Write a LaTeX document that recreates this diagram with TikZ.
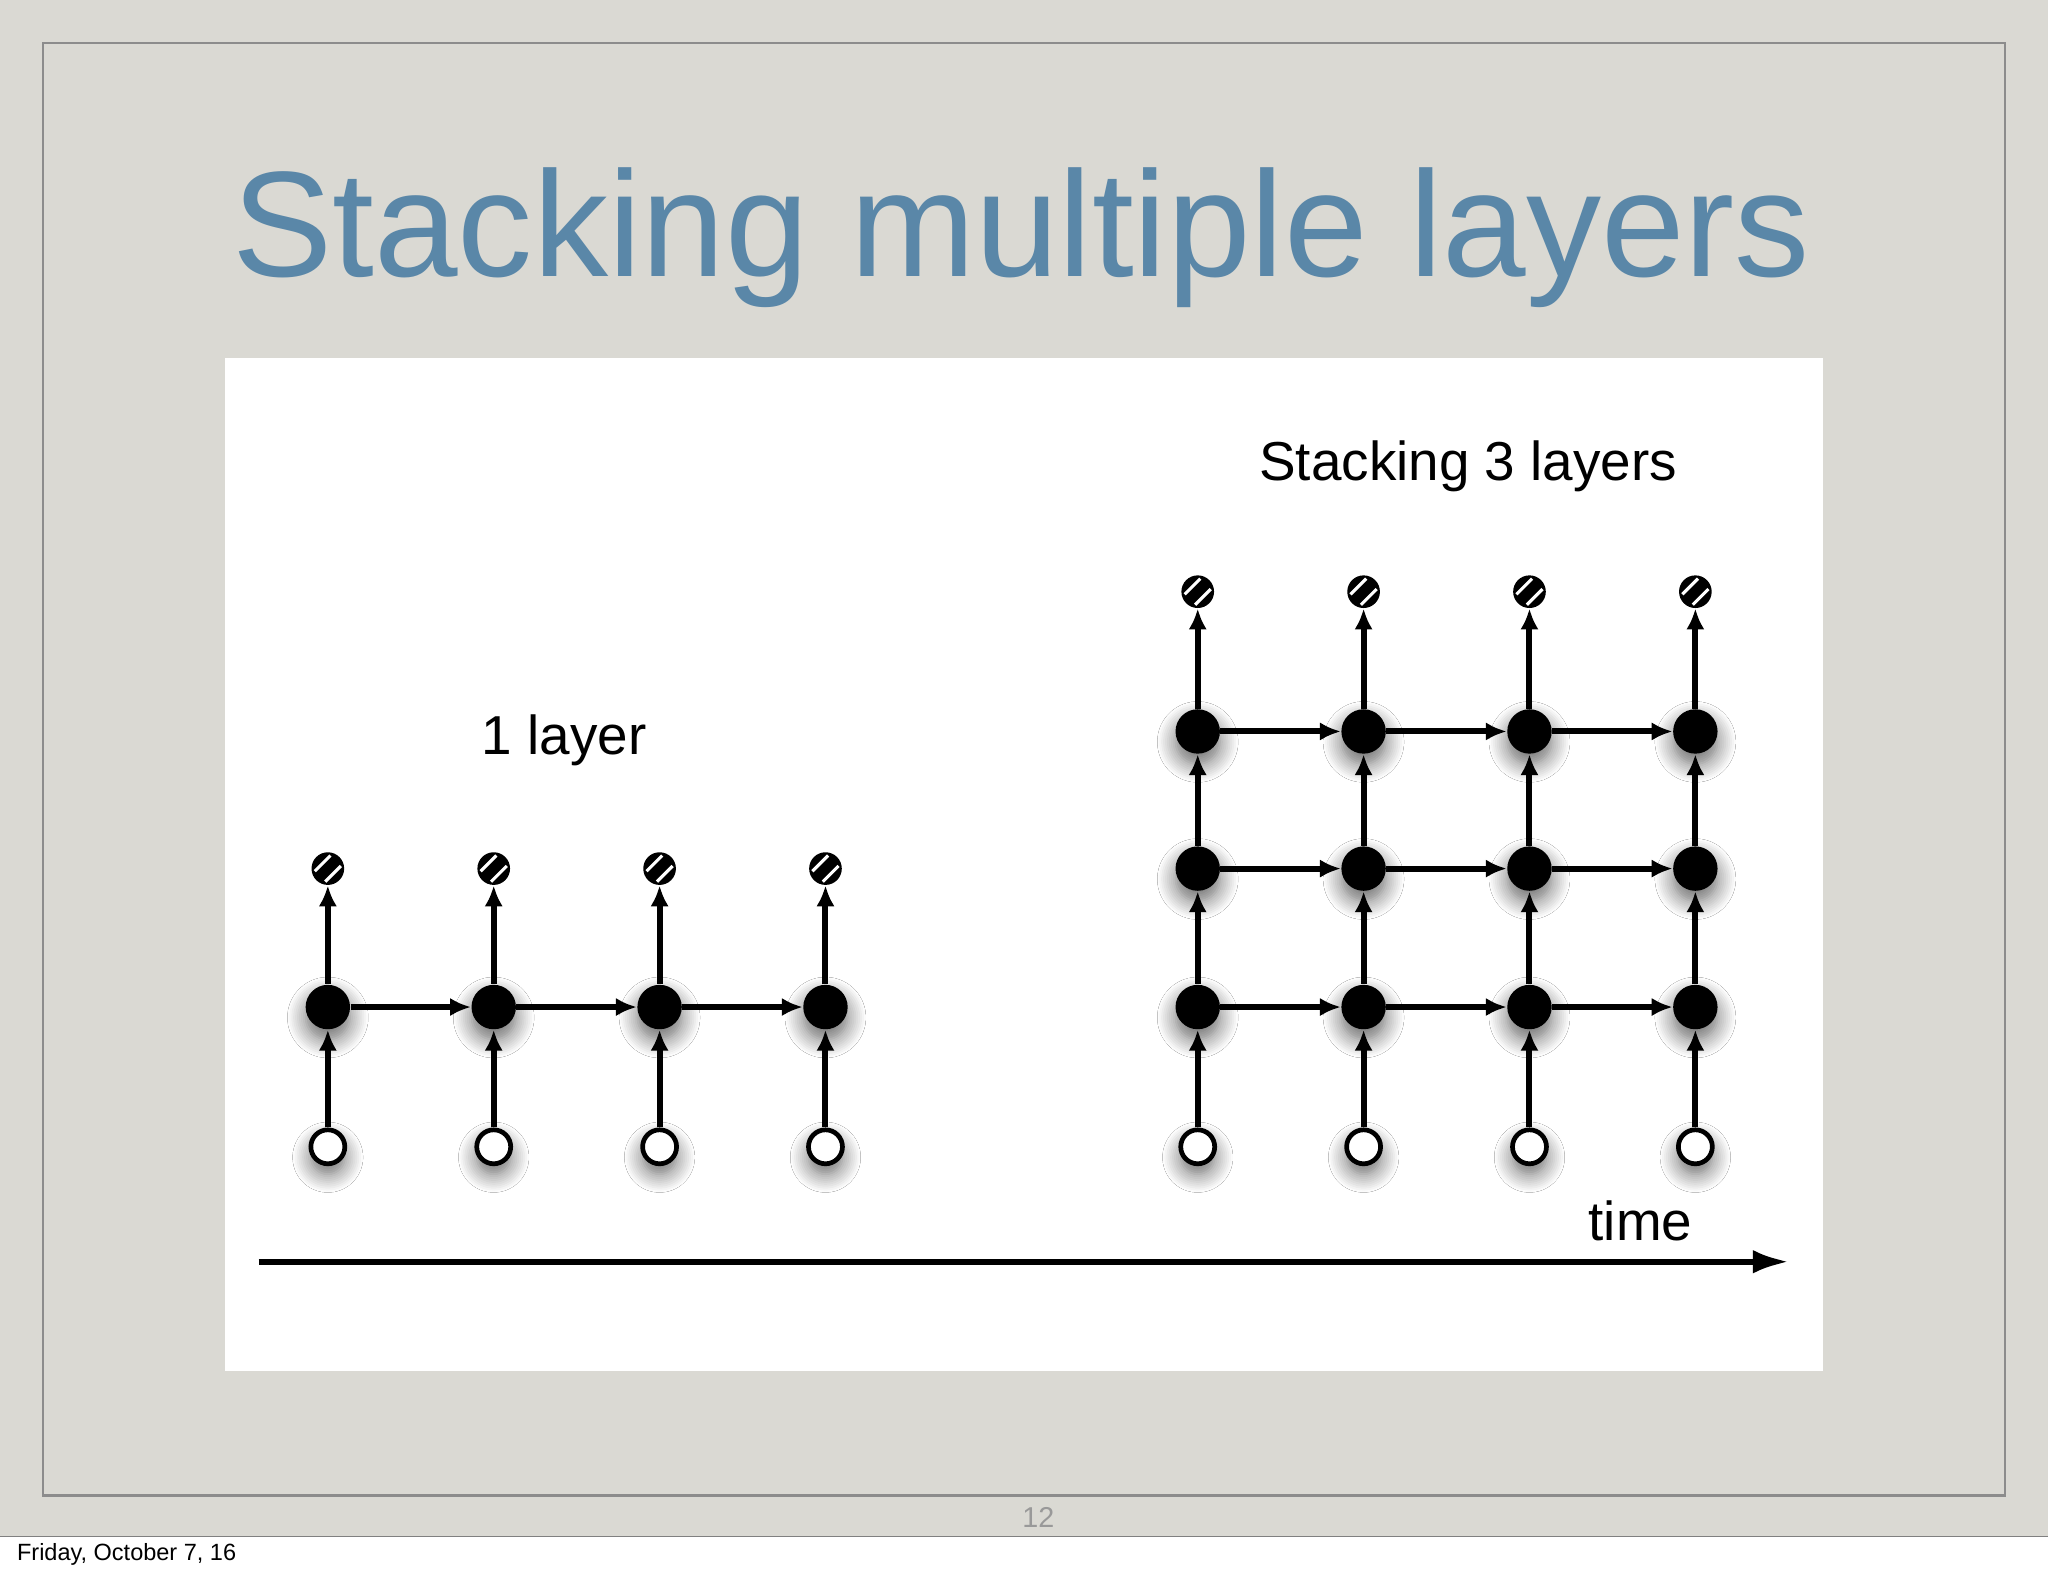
\documentclass[tikz,border=0pt]{standalone}
\usepackage{fontspec}
\setmainfont{Liberation Sans}
\usetikzlibrary{arrows.meta,shadows.blur}
\definecolor{bg}{HTML}{DAD9D3}
\definecolor{ttl}{HTML}{5A87A8}
\tikzset{
 hid/.style={circle,fill=black,minimum size=17pt,inner sep=0,blur shadow={shadow blur steps=10,shadow xshift=0pt,shadow yshift=-4pt,shadow opacity=60,shadow blur radius=7pt}},
 inp/.style={circle,draw=black,line width=1.8pt,fill=white,minimum size=13pt,inner sep=0,blur shadow={shadow blur steps=10,shadow xshift=0pt,shadow yshift=-4pt,shadow opacity=60,shadow blur radius=7pt}},
 outn/.style={circle,fill=black,minimum size=12.5pt,inner sep=0,path picture={\draw[white,line width=1.2pt] ([xshift=-1pt,yshift=-5pt]path picture bounding box.center)--++(6pt,6pt);\draw[white,line width=1.2pt] ([xshift=-5pt,yshift=-1pt]path picture bounding box.center)--++(6pt,6pt);}},
 arr/.style={-{Latex[length=8pt,width=7pt]},line width=2.3pt}
}
\begin{document}
\begin{tikzpicture}[x=0.5pt,y=-0.5pt]
\useasboundingbox (0,0) rectangle (1568,1206);
\fill[bg] (0,0) rectangle (1568,1176);
\fill[white] (0,1176) rectangle (1568,1206);
\draw[gray] (0,1176)--(1568,1176);
\draw[gray!90,line width=0.8pt] (33,33) rectangle (1535,1145);
\node[ttl,font=\fontsize{57.5}{62}\selectfont] (title) at (782,182) {Stacking multiple layers};
\fill[white] (172,274) rectangle (1396,1050);
\node[gray!80,font=\fontsize{11}{12}\selectfont] (pg) at (795,1162) {12};
\node[anchor=west,font=\fontsize{9}{11}\selectfont] (date) at (6,1190) {Friday, October 7, 16};
\node[font=\fontsize{21}{24}\selectfont] (l1) at (432,567) {1 layer};
\node[font=\fontsize{21}{24}\selectfont] (l3) at (1124,357) {Stacking 3 layers};
\node[font=\fontsize{21}{24}\selectfont] (tm) at (1256,935) {time};
\coordinate (t0) at (198,966); \coordinate (t1) at (1370,966);
\draw[-{Latex[length=14pt,width=9pt]},line width=2.4pt] (t0)--(t1);
\foreach \i/\x in {1/251,2/378,3/505,4/632}{
 \node[inp] (ai\i) at (\x,878) {};
 \node[hid] (ah\i) at (\x,771) {};
 \node[outn] (ao\i) at (\x,665) {};
 \draw[arr] (ai\i)--(ah\i);
 \draw[arr] (ah\i)--(ao\i);
}
\foreach \i/\j in {1/2,2/3,3/4}{\draw[arr] (ah\i)--(ah\j);}
\foreach \i/\x in {1/917,2/1044,3/1171,4/1298}{
 \node[inp] (bi\i) at (\x,878) {};
 \node[hid] (ba\i) at (\x,771) {};
 \node[hid] (bb\i) at (\x,665) {};
 \node[hid] (bc\i) at (\x,560) {};
 \node[outn] (bo\i) at (\x,453) {};
 \draw[arr] (bi\i)--(ba\i);
 \draw[arr] (ba\i)--(bb\i);
 \draw[arr] (bb\i)--(bc\i);
 \draw[arr] (bc\i)--(bo\i);
}
\foreach \i/\j in {1/2,2/3,3/4}{
 \draw[arr] (ba\i)--(ba\j);
 \draw[arr] (bb\i)--(bb\j);
 \draw[arr] (bc\i)--(bc\j);
}
\end{tikzpicture}
\end{document}
